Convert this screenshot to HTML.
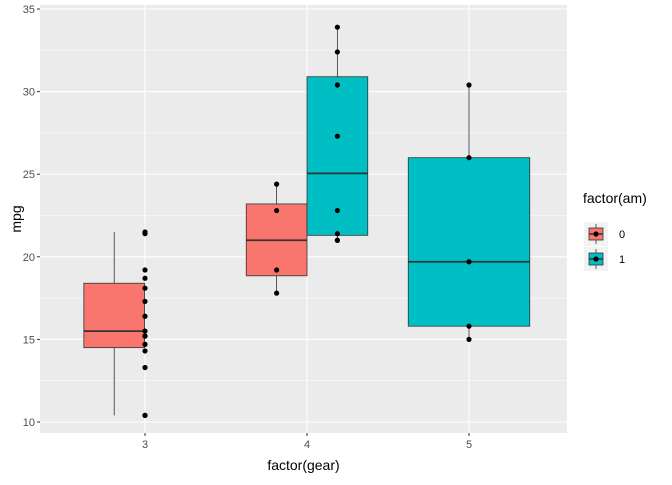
<!DOCTYPE html>
<html><head><meta charset="utf-8"><style>
body{margin:0;background:#fff;font-family:"Liberation Sans",sans-serif}
</style></head><body>
<svg id="c" width="672" height="480" xmlns="http://www.w3.org/2000/svg"></svg>
<script>
const categories=[3,4,5];
const yTicks=[10,15,20,25,30,35];
const groups=["0","1"];
const colors=["#F8766D","#00BFC4"];
// box stats: x center (data units), width, am, lower whisker, q1, median, q3, upper whisker
const boxCenters=[2.81,3.8125,4.1875,5];
const boxWidths=[0.375,0.375,0.375,0.75];
const boxAm=[0,0,1,1];
const boxLow=[10.4,17.8,21.0,15.0];
const boxQ1=[14.5,18.85,21.3,15.8];
const boxMed=[15.5,21.0,25.05,19.7];
const boxQ3=[18.4,23.2,30.9,26.0];
const boxHigh=[21.5,24.4,33.9,30.4];
const pointX=[3,3,3,3,3,3,3,3,3,3,3,3,3,3,3,3.8125,3.8125,3.8125,3.8125,4.1875,4.1875,4.1875,4.1875,4.1875,4.1875,4.1875,4.1875,5,5,5,5,5];
const pointY=[21.4,18.7,18.1,14.3,16.4,17.3,15.2,10.4,10.4,14.7,21.5,15.5,15.2,13.3,19.2,24.4,22.8,19.2,17.8,21,21,22.8,32.4,30.4,33.9,27.3,21.4,26,30.4,15.8,19.7,15.0];

const svg=document.getElementById('c');const NS="http://www.w3.org/2000/svg";
const PL=40,PR=567,PT=5,PB=433;
const X=v=>145+(v-3)*162;
const Y=v=>422-(v-10)*16.52;
function mk(t,a,p){const e=document.createElementNS(NS,t);for(const k in a)e.setAttribute(k,a[k]);(p||svg).appendChild(e);return e;}
const bg=mk('rect',{x:PL,y:PT,width:PR-PL,height:PB-PT,fill:'#EBEBEB'});


for(let i=0;i<yTicks.length-1;i++){const m=(yTicks[i]+yTicks[i+1])/2;
 const l=mk('line',{x1:PL,x2:PR,y1:Y(m),y2:Y(m),stroke:'#fff','stroke-width':0.5});
 
 }
yTicks.forEach(t=>{const l=mk('line',{x1:PL,x2:PR,y1:Y(t),y2:Y(t),stroke:'#fff','stroke-width':1.1});
 
 
 const tk=mk('line',{x1:PL-3,x2:PL,y1:Y(t),y2:Y(t),stroke:'#333'});
 
 
 const tx=mk('text',{x:PL-5,y:Y(t)+4,'text-anchor':'end','font-size':11,fill:'#4d4d4d'});tx.textContent=t;
 
 });
categories.forEach(c=>{const l=mk('line',{x1:X(c),x2:X(c),y1:PT,y2:PB,stroke:'#fff','stroke-width':1.1});
 
 
 const tk=mk('line',{x1:X(c),x2:X(c),y1:PB,y2:PB+3,stroke:'#333'});
 
 
 const tx=mk('text',{x:X(c),y:PB+15,'text-anchor':'middle','font-size':11,fill:'#4d4d4d'});tx.textContent=c;
 
 });
boxCenters.forEach((c,i)=>{const g=mk('g',{});
 
 
 const x0=X(c-boxWidths[i]/2),x1=X(c+boxWidths[i]/2);
 mk('line',{x1:X(c),x2:X(c),y1:Y(boxLow[i]),y2:Y(boxHigh[i]),stroke:'#333','stroke-width':0.8},g);
 mk('rect',{x:x0,y:Y(boxQ3[i]),width:x1-x0,height:Y(boxQ1[i])-Y(boxQ3[i]),fill:colors[boxAm[i]],stroke:'#333','stroke-width':0.8},g);
 mk('line',{x1:x0,x2:x1,y1:Y(boxMed[i]),y2:Y(boxMed[i]),stroke:'#333','stroke-width':1.8},g);});
pointX.forEach((x,i)=>{const p=mk('circle',{cx:X(x),cy:Y(pointY[i]),r:2.6,fill:'#000'});
 
 });
const xt=mk('text',{x:(PL+PR)/2,y:470,'text-anchor':'middle','font-size':14,fill:'#000'});xt.textContent='factor(gear)';


const yt=mk('text',{x:0,y:0,'text-anchor':'middle','font-size':14,fill:'#000',transform:`translate(21,${(PT+PB)/2}) rotate(-90)`});yt.textContent='mpg';


const lt=mk('text',{x:583,y:203,'font-size':14,fill:'#000'});lt.textContent='factor(am)';


groups.forEach((g,i)=>{const y0=222+i*25;const G=mk('g',{});
 
 
 mk('rect',{x:584,y:y0,width:24,height:24,fill:'#F2F2F2'},G);
 mk('line',{x1:596,x2:596,y1:y0+2,y2:y0+22,stroke:'#333','stroke-width':0.8},G);
 mk('rect',{x:589,y:y0+6,width:14,height:12,fill:colors[i],stroke:'#333','stroke-width':0.8},G);
 mk('line',{x1:589,x2:603,y1:y0+12,y2:y0+12,stroke:'#333','stroke-width':1.5},G);
 mk('circle',{cx:596,cy:y0+12,r:2.6,fill:'#000'},G);
 const t=mk('text',{x:619,y:y0+16,'font-size':11,fill:'#000'},G);t.textContent=g;});
</script>
</body></html>
